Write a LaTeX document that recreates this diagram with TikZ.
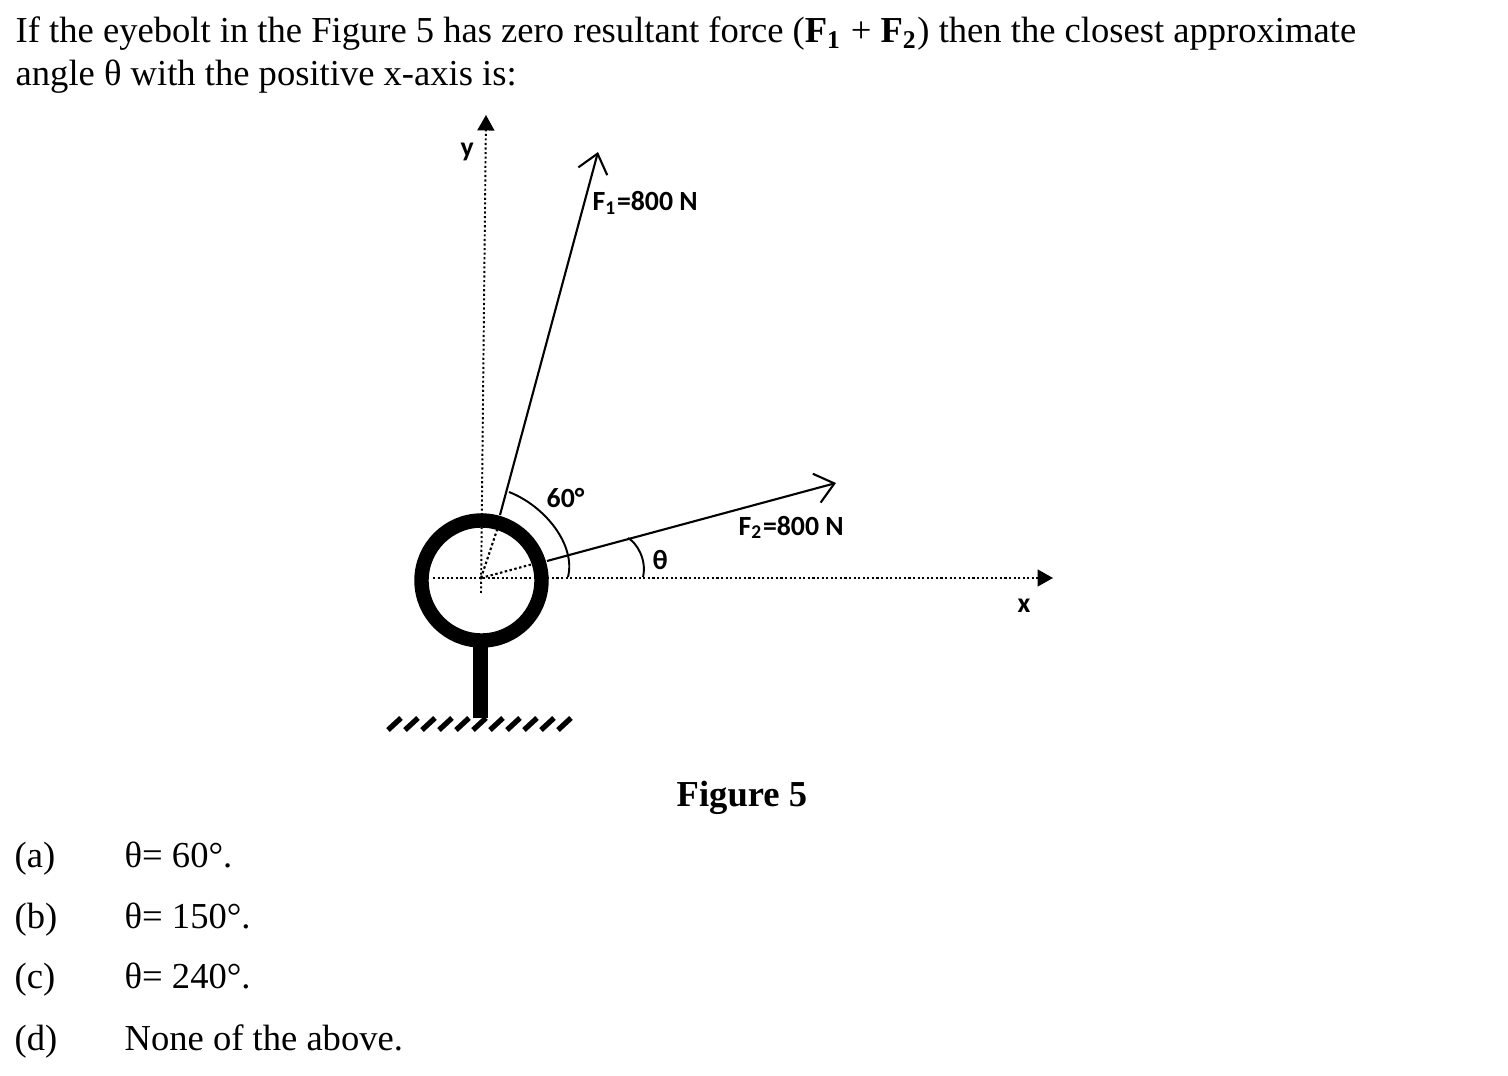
\documentclass[tikz,border=0pt]{standalone}
\usepackage{fontspec}
\setmainfont{Liberation Serif}
\newfontfamily\labelfont{Carlito}[BoldFont={Carlito Bold}]
\usetikzlibrary{arrows.meta}

\tikzset{
  bodytext/.style={anchor=base west, inner sep=0pt, font=\fontsize{10.4}{12}\selectfont},
  figlabel/.style={anchor=base west, inner sep=0pt, font=\labelfont\bfseries\fontsize{7.9}{9}\selectfont},
  axisline/.style={dash pattern=on 0.6pt off 0.7pt, line width=0.55pt, -{Triangle[length=4.4pt, width=4.8pt]}},
  guideline/.style={dash pattern=on 0.7pt off 0.7pt, line width=0.6pt},
  forceline/.style={line width=0.6pt, -{Straight Barb[length=5.2pt, width=8.5pt, line width=0.6pt]}},
  anglearc/.style={line width=0.55pt},
  eyering/.style={draw, line width=4.1pt},
  groundhatch/.style={line width=1.5pt}
}

\begin{document}
\begin{tikzpicture}[x=0.01cm, y=-0.01cm]
\useasboundingbox (0,0) rectangle (1508,1076);

% question text
\node[bodytext] (lineone) at (15,43) {If the eyebolt in the Figure 5 has zero resultant force (\textbf{F\textsubscript{1}} + \textbf{F\textsubscript{2}}) then the closest approximate};
\node[bodytext] (linetwo) at (15,86) {angle θ with the positive x-axis is:};

% set up coordinates
\coordinate (O) at (481,578);
\coordinate (Ring) at (481.5,580.5);
\coordinate (Xstart) at (433,578);
\coordinate (Xend) at (1053,578);
\coordinate (Ystart) at (481,593);
\coordinate (Yend) at (486,115);
\coordinate (Fonestart) at (500,515);
\coordinate (Fonetip) at (598,152);
\coordinate (Ftwostart) at (547,561);
\coordinate (Ftwotip) at (836,483);
\coordinate (Fonein) at (497,530);
\coordinate (Ftwoin) at (533,564);
\coordinate (Stemtop) at (480.5,640);
\coordinate (Stembottom) at (480.5,718);

% draw axes
\draw[axisline] (Xstart) -- (Xend);
\draw[axisline] (Ystart) -- (Yend);
\draw[guideline] (O) -- (Fonein);
\draw[guideline] (O) -- (Ftwoin);

% draw eyebolt
\draw[eyering] (Ring) circle (60);
\draw[line width=4.2pt] (Stemtop) -- (Stembottom);
\foreach \x in {0,1,...,10}
  \draw[groundhatch] (388+17*\x,730) -- (401+17*\x,718);

% draw forces
\draw[forceline] (Fonestart) -- (Fonetip);
\draw[forceline] (Ftwostart) -- (Ftwotip);

% mark the angles
\coordinate (Sixtyone) at (509,492);
\coordinate (Sixtytwo) at (568,577);
\coordinate (Thetaone) at (628,538);
\coordinate (Thetatwo) at (643,577);
\draw[anglearc] (Sixtyone) .. controls (545,506) and (576,545) .. (Sixtytwo);
\draw[anglearc] (Thetaone) .. controls (637,543) and (647,560) .. (Thetatwo);

% draw labels
\node[figlabel] (ylabel) at (460,157) {y};
\node[figlabel] (xlabel) at (1017,613) {x};
\node[figlabel] (Fonelabel) at (592,211) {F\textsubscript{1}=800 N};
\node[figlabel] (Ftwolabel) at (738,535) {F\textsubscript{2}=800 N};
\node[figlabel] (sixty) at (546,508) {60°};
\node[figlabel] (theta) at (652,570) {θ};

% caption
\node[bodytext, font=\bfseries\fontsize{10.4}{12}\selectfont] (caption) at (676,807) {Figure 5};

% answers
\foreach \y/\m/\t in {867/a/θ= 60°., 928/b/θ= 150°., 988/c/θ= 240°., 1050/d/None of the above.} {
  \node[bodytext] (opt\m) at (14,\y) {(\m)};
  \node[bodytext] (ans\m) at (124,\y) {\t};
}
\end{tikzpicture}
\end{document}
